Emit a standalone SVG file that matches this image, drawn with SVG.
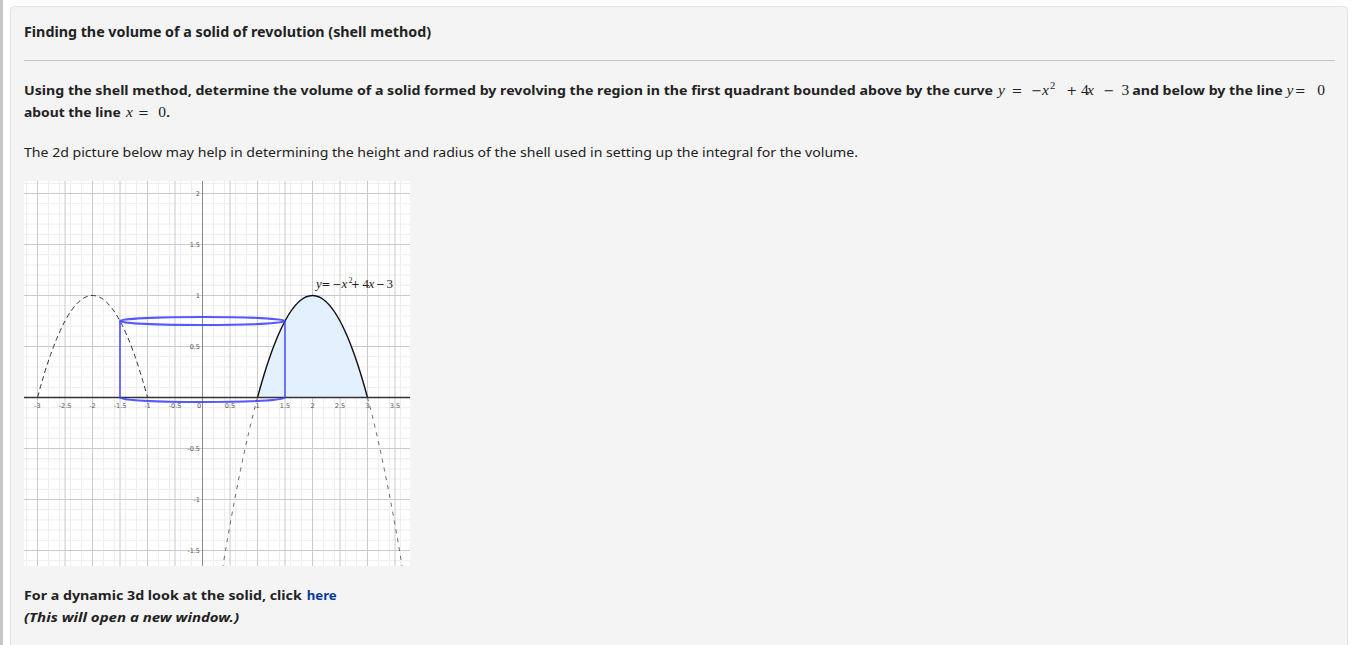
<svg xmlns="http://www.w3.org/2000/svg" width="1353" height="645" viewBox="0 0 1353 645">
<style>
.t{font-family:"Noto Sans","Open Sans","Liberation Sans",sans-serif;fill:#222;}
.b{font-weight:bold;}
.m{font-family:"Liberation Serif","DejaVu Serif",serif;fill:#222;}
.i{font-style:italic;}
.o{font-family:"DejaVu Serif","Liberation Serif",serif;}
.tick{font-family:"DejaVu Sans","Liberation Sans",sans-serif;font-size:6.5px;fill:#555;}
.minor{stroke:#ededed;stroke-width:1;fill:none;}
.major{stroke:#cacaca;stroke-width:1;fill:none;}
.shell{stroke:#3b3bff;fill:none;}
</style>
<defs>
<clipPath id="gclip"><rect x="24" y="181" width="386" height="385"/></clipPath>
</defs>
<rect x="0" y="0" width="1353" height="645" fill="#ffffff"/>
<rect x="0" y="0" width="3" height="645" fill="#c6c6c6"/>
<rect id="panel" x="10.5" y="6.5" width="1337" height="660" rx="4" fill="#f4f4f4" stroke="#e2e2e2"/>

<g id="header">
<text class="t b" x="24" y="37" font-size="14" textLength="407" lengthAdjust="spacingAndGlyphs">Finding the volume of a solid of revolution (shell method)</text>
<line x1="24" y1="60.5" x2="1335" y2="60.5" stroke="#c4c4c4" stroke-width="1"/>
</g>

<g id="question">
<text class="t b" x="24" y="95" font-size="13" textLength="969" lengthAdjust="spacingAndGlyphs">Using the shell method, determine the volume of a solid formed by revolving the region in the first quadrant bounded above by the curve</text>
<text class="m" y="95" font-size="15.5"><tspan class="i" x="998">y</tspan><tspan class="o" font-size="13" x="1011.5">=</tspan><tspan class="o" font-size="13" x="1031.3">−</tspan><tspan class="i" x="1042">x</tspan><tspan x="1050" dy="-6.5" font-size="10.5">2</tspan><tspan class="o" font-size="13" x="1066.2" dy="6.5">+</tspan><tspan x="1081">4</tspan><tspan class="i" x="1087">x</tspan><tspan class="o" font-size="13" x="1103.6">−</tspan><tspan x="1121.5">3</tspan></text>
<text class="t b" x="1132.3" y="95" font-size="13" textLength="150.4" lengthAdjust="spacingAndGlyphs">and below by the line</text>
<text class="m" y="95" font-size="15.5"><tspan class="i" x="1286.5">y</tspan><tspan class="o" font-size="13" x="1294.8">=</tspan><tspan x="1317.3">0</tspan></text>
<text class="t b" x="24" y="117" font-size="13" textLength="96.7" lengthAdjust="spacingAndGlyphs">about the line</text>
<text class="m" y="117" font-size="15.5"><tspan class="i" x="126">x</tspan><tspan class="o" font-size="13" x="138">=</tspan><tspan x="158.3">0</tspan></text>
<text class="t b" x="166.2" y="117" font-size="13">.</text>
<text class="t" x="24" y="157" font-size="13" textLength="834" lengthAdjust="spacingAndGlyphs">The 2d picture below may help in determining the height and radius of the shell used in setting up the integral for the volume.</text>
</g>

<g id="graph">
<rect x="24" y="181" width="386" height="385" fill="#ffffff"/>
<g clip-path="url(#gclip)">
<path class="minor" d="M26.5,181V566M48.5,181V566M59.5,181V566M70.5,181V566M81.5,181V566M103.5,181V566M114.5,181V566M125.5,181V566M136.5,181V566M158.5,181V566M169.5,181V566M180.5,181V566M191.5,181V566M213.5,181V566M224.5,181V566M235.5,181V566M246.5,181V566M268.5,181V566M279.5,181V566M290.5,181V566M301.5,181V566M323.5,181V566M334.5,181V566M345.5,181V566M356.5,181V566M378.5,181V566M389.5,181V566M400.5,181V566"/>
<path class="minor" d="M24,183.3H410M24,203.7H410M24,213.9H410M24,224.1H410M24,234.3H410M24,254.7H410M24,264.9H410M24,275.1H410M24,285.3H410M24,305.7H410M24,315.9H410M24,326.1H410M24,336.3H410M24,356.7H410M24,366.9H410M24,377.1H410M24,387.3H410M24,407.7H410M24,417.9H410M24,428.1H410M24,438.3H410M24,458.7H410M24,468.9H410M24,479.1H410M24,489.3H410M24,509.7H410M24,519.9H410M24,530.1H410M24,540.3H410M24,560.7H410"/>
<path class="major" d="M37.5,181V566M65,181V566M92.5,181V566M120,181V566M147.5,181V566M175,181V566M230,181V566M257.5,181V566M285,181V566M312.5,181V566M340,181V566M367.5,181V566M395,181V566M24,193.5H410M24,244.5H410M24,295.5H410M24,346.5H410M24,448.5H410M24,499.5H410M24,550.5H410"/>
<line x1="202.5" y1="181" x2="202.5" y2="566" stroke="#8a8a8a" stroke-width="1"/>

<path id="region" d="M257.5,397.5 Q312.5,193.5 367.5,397.5 Z" fill="#e2f1fd" stroke="none"/>
<path d="M257.5,397.5 Q240.2,461.6 222.9,566" fill="none" stroke="#555" stroke-width="0.9" stroke-dasharray="4,5"/>
<path d="M367.5,397.5 Q384.8,461.6 402.1,566" fill="none" stroke="#555" stroke-width="0.9" stroke-dasharray="4,5"/>
<path d="M37.5,397.5 Q92.5,193.5 147.5,397.5" fill="none" stroke="#333" stroke-width="1" stroke-dasharray="5,3.5"/>
<path d="M257.5,397.5 Q312.5,193.5 367.5,397.5" fill="none" stroke="#111" stroke-width="1.4"/>
<line x1="24" y1="397.5" x2="410" y2="397.5" stroke="#333" stroke-width="1.5"/>

<g id="shell">
<line class="shell" x1="120" y1="321" x2="120" y2="397.5" stroke-width="1.4"/>
<line class="shell" x1="285" y1="321" x2="285" y2="397.5" stroke-width="1.4"/>
<ellipse class="shell" cx="202.5" cy="321" rx="82.5" ry="4" stroke-width="2" stroke-opacity="0.85"/>
<path class="shell" d="M120,397.5 A82.5,4.5 0 0 0 285,397.5" stroke-width="2" stroke-opacity="0.85"/>
</g>

<g id="ticks">
<text class="tick" x="37.5" y="408" text-anchor="middle">-3</text>
<text class="tick" x="65" y="408" text-anchor="middle">-2.5</text>
<text class="tick" x="92.5" y="408" text-anchor="middle">-2</text>
<text class="tick" x="120" y="408" text-anchor="middle">-1.5</text>
<text class="tick" x="147.5" y="408" text-anchor="middle">-1</text>
<text class="tick" x="175" y="408" text-anchor="middle">-0.5</text>
<text class="tick" x="199" y="408" text-anchor="middle">0</text>
<text class="tick" x="230" y="408" text-anchor="middle">0.5</text>
<text class="tick" x="257.5" y="408" text-anchor="middle">1</text>
<text class="tick" x="285" y="408" text-anchor="middle">1.5</text>
<text class="tick" x="312.5" y="408" text-anchor="middle">2</text>
<text class="tick" x="340" y="408" text-anchor="middle">2.5</text>
<text class="tick" x="367.5" y="408" text-anchor="middle">3</text>
<text class="tick" x="395" y="408" text-anchor="middle">3.5</text>
<text class="tick" x="200" y="196" text-anchor="end">2</text>
<text class="tick" x="200" y="247" text-anchor="end">1.5</text>
<text class="tick" x="200" y="298" text-anchor="end">1</text>
<text class="tick" x="200" y="349" text-anchor="end">0.5</text>
<text class="tick" x="200" y="451" text-anchor="end">-0.5</text>
<text class="tick" x="200" y="502" text-anchor="end">-1</text>
<text class="tick" x="200" y="553" text-anchor="end">-1.5</text>
</g>

<text class="m" y="288" font-size="13"><tspan class="i" x="316">y</tspan><tspan class="o" font-size="10.5" x="321.5">=</tspan><tspan class="o" font-size="10.5" x="332.5">−</tspan><tspan class="i" x="341.5">x</tspan><tspan x="348.5" dy="-5" font-size="8">2</tspan><tspan class="o" font-size="10.5" x="351" dy="5">+</tspan><tspan x="362.5">4</tspan><tspan class="i" x="368.5">x</tspan><tspan class="o" font-size="10.5" x="376">−</tspan><tspan x="386.5">3</tspan></text>
</g>
</g>

<g id="footer">
<text class="t b" x="24" y="600" font-size="13" textLength="277.7" lengthAdjust="spacingAndGlyphs">For a dynamic 3d look at the solid, click</text>
<text class="t b" x="306.7" y="600" font-size="13" textLength="30" lengthAdjust="spacingAndGlyphs" style="fill:#0a3a9e">here</text>
<text class="t b i" x="24" y="622" font-size="13" textLength="215" lengthAdjust="spacingAndGlyphs">(This will open a new window.)</text>
</g>
</svg>
